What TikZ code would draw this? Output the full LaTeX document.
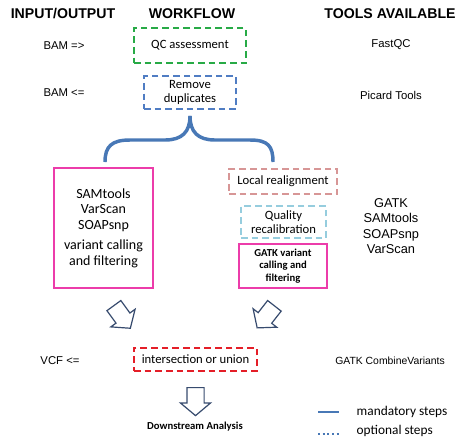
\documentclass[tikz,border=0pt]{standalone}
\usepackage{fontspec}
\setmainfont{Carlito}
\newfontfamily\sidefont{Liberation Sans}
\usetikzlibrary{shapes.arrows,positioning}
\definecolor{qcgreen}{RGB}{40,170,70}
\definecolor{dupblue}{RGB}{80,125,195}
\definecolor{realpink}{RGB}{215,150,150}
\definecolor{recalblue}{RGB}{150,205,222}
\definecolor{callmagenta}{RGB}{236,60,170}
\definecolor{unionred}{RGB}{228,30,40}
\definecolor{bracecol}{RGB}{72,120,182}
\definecolor{arrowcol}{RGB}{55,75,110}

\begin{document}
\begin{tikzpicture}[x=0.75pt,y=-0.75pt,
		stepbox/.style={draw,line width=1.4pt,dash pattern=on 5pt off 3pt,align=center,
			font=\fontsize{9.5}{10.5}\selectfont,inner sep=0pt},
		callbox/.style={draw=callmagenta,line width=1.3pt,align=center,inner sep=0pt},
		header/.style={font=\sidefont\bfseries\fontsize{10.6}{12}\selectfont},
		sidetext/.style={font=\sidefont\fontsize{8.5}{10}\selectfont,align=center},
		fatarrow/.style={single arrow,draw=arrowcol,line width=0.9pt,fill=white,
			minimum height=21pt,inner xsep=0pt,inner ysep=6pt,
			single arrow head extend=4.8pt,single arrow tip angle=100},
		bracestyle/.style={draw=bracecol,line width=2.6pt}
		]
		\useasboundingbox (0,0) rectangle (474,437);

		% column titles
		\node[header](hio) at (63,14){INPUT/OUTPUT};
		\node[header](hwf) at (192,14){WORKFLOW};
		\node[header](htools) at (390,14){TOOLS AVAILABLE};

		% workflow
		\node[stepbox,draw=qcgreen,minimum width=84pt,minimum height=26pt](qc) at (190,45.5){QC assessment};
		\node[stepbox,draw=dupblue,minimum width=69pt,minimum height=24.75pt](dup) at (190,92.5){Remove\\duplicates};
		\node[callbox,minimum width=74.25pt,minimum height=90pt,font=\fontsize{10.5}{11.5}\selectfont](leftcall) at (103.5,228)
			{SAMtools\\VarScan\\SOAPsnp\\[4pt]variant calling\\and filtering};
		\node[stepbox,draw=realpink,minimum width=81pt,minimum height=18.75pt](realign) at (283,181.5){Local realignment};
		\node[stepbox,draw=recalblue,minimum width=63.75pt,minimum height=24pt](recal) at (283.5,222){Quality\\recalibration};
		\node[callbox,minimum width=66pt,minimum height=33pt,font=\bfseries\fontsize{8}{9.3}\selectfont](gatkcall) at (283,266)
			{GATK variant\\calling and\\filtering};
		\node[stepbox,draw=unionred,minimum width=92.25pt,minimum height=17.25pt](union) at (195.5,359.5){intersection or union};
		\node[font=\bfseries\fontsize{8}{10}\selectfont](down) at (195,427){Downstream Analysis};

		% split after duplicate removal
		\coordinate (braceL) at (105,162);
		\coordinate (braceR) at (273,162);
		\draw[bracestyle] (braceL) .. controls (105,146) and (112,140) .. (130,140) -- (165,140)
			.. controls (182,140) and (190,132) .. ([yshift=-4.5pt]dup.south);
		\draw[bracestyle] ([yshift=-4.5pt]dup.south) .. controls (190,132) and (198,140) .. (215,140) -- (250,140)
			.. controls (268,140) and (273,146) .. (braceR);

		% hollow arrows
		\node[fatarrow,rotate=-54](arrL) at (120,314){};
		\node[fatarrow,rotate=-128](arrR) at (268,314){};
		\node[fatarrow,rotate=-90](arrD) at (195.5,398){};

		% input / output
		\node[sidetext](bamin) at (64,46){BAM =>};
		\node[sidetext](bamout) at (64,93){BAM <=};
		\node[sidetext](vcfout) at (60,361){VCF <=};

		% tools
		\node[sidetext](fastqc) at (391,45){FastQC};
		\node[sidetext](picard) at (391,95){Picard Tools};
		\node[sidetext,font=\sidefont\fontsize{9.6}{11.6}\selectfont](callers) at (391,226){GATK\\SAMtools\\SOAPsnp\\VarScan};
		\node[sidetext,font=\sidefont\fontsize{7.8}{9}\selectfont](combine) at (390,361){GATK CombineVariants};

		% legend
		\coordinate (mandA) at (318,412);
		\coordinate (mandB) at (339,412);
		\coordinate (optA) at (318,434);
		\coordinate (optB) at (339,434);
		\draw[draw=bracecol,line width=1.6pt] (mandA) -- (mandB);
		\draw[draw=bracecol,line width=1.6pt,dash pattern=on 1.5pt off 2pt] (optA) -- (optB);
		\node[anchor=west,font=\fontsize{10}{12}\selectfont](mandtext) at (352,412){mandatory steps};
		\node[anchor=west,font=\fontsize{10}{12}\selectfont](opttext) at (352,431){optional steps};
	\end{tikzpicture}
\end{document}
